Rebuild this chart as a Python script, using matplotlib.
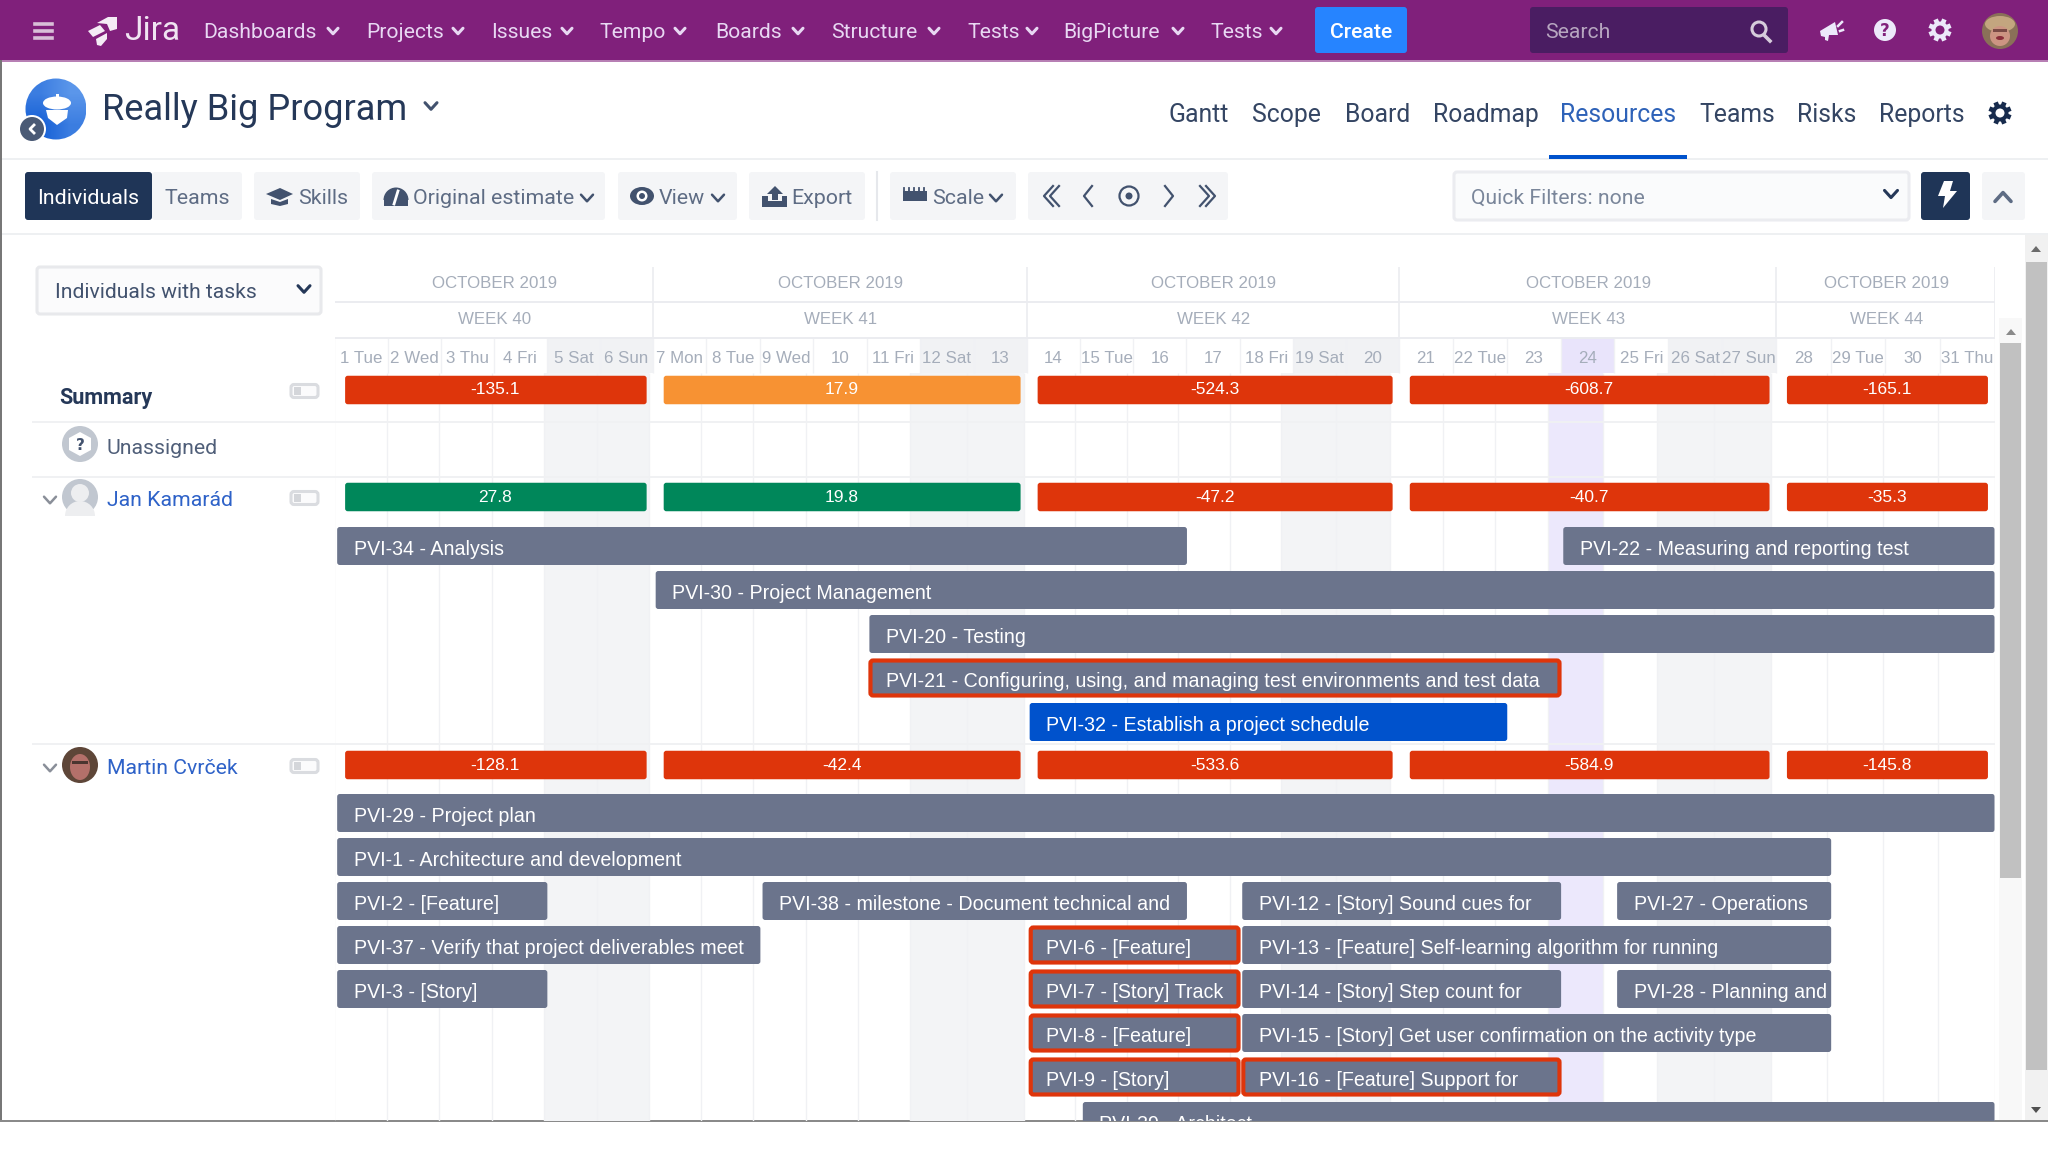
import matplotlib
matplotlib.use("Agg")
import numpy as np
import matplotlib.pyplot as plt
from matplotlib.colors import LinearSegmentedColormap
from matplotlib.patches import FancyBboxPatch, Circle, Polygon, Rectangle, Ellipse, Wedge

# calendar
day_labels = ['1 Tue', '2 Wed', '3 Thu', '4 Fri', '5 Sat', '6 Sun', '7 Mon', '8 Tue', '9 Wed', '10', '11 Fri',
              '12 Sat', '13', '14', '15 Tue', '16', '17', '18 Fri', '19 Sat', '20', '21', '22 Tue', '23', '24',
              '25 Fri', '26 Sat', '27 Sun', '28', '29 Tue', '30', '31 Thu']
weekend_days = [5, 6, 12, 13, 19, 20, 26, 27]
today = 24
week_labels = ['WEEK 40', 'WEEK 41', 'WEEK 42', 'WEEK 43', 'WEEK 44']
week_first_day = [1, 7, 14, 21, 28]
week_last_day = [6, 13, 20, 27, 31]

# weekly capacity figures
summary_values = [-135.1, 17.9, -524.3, -608.7, -165.1]
jan_values = [27.8, 19.8, -47.2, -40.7, -35.3]
martin_values = [-128.1, -42.4, -533.6, -584.9, -145.8]

# tasks of Jan: name, first day, last day, lane
jan_tasks = ['PVI-34 - Analysis', 'PVI-22 - Measuring and reporting test', 'PVI-30 - Project Management',
             'PVI-20 - Testing', 'PVI-21 - Configuring, using, and managing test environments and test data',
             'PVI-32 - Establish a project schedule']
jan_first = [1, 24, 7, 11, 11, 14]
jan_last = [16, 31, 31, 31, 23, 22]
jan_lanes = [0, 0, 1, 2, 3, 4]
jan_late = [False, False, False, False, True, False]
jan_done = [False, False, False, False, False, True]

# tasks of Martin
martin_tasks = ['PVI-29 - Project plan', 'PVI-1 - Architecture and development', 'PVI-2 - [Feature]',
                'PVI-38 - milestone - Document technical and', 'PVI-12 - [Story] Sound cues for', 'PVI-27 - Operations',
                'PVI-37 - Verify that project deliverables meet', 'PVI-6 - [Feature]',
                'PVI-13 - [Feature] Self-learning algorithm for running', 'PVI-3 - [Story]', 'PVI-7 - [Story] Track',
                'PVI-14 - [Story] Step count for', 'PVI-28 - Planning and', 'PVI-8 - [Feature]',
                'PVI-15 - [Story] Get user confirmation on the activity type', 'PVI-9 - [Story]',
                'PVI-16 - [Feature] Support for', 'PVI-39 - Architect']
martin_first = [1, 1, 1, 9, 18, 25, 1, 14, 18, 1, 14, 18, 25, 14, 18, 14, 18, 15]
martin_last = [31, 28, 4, 16, 23, 28, 8, 17, 28, 4, 17, 23, 28, 17, 28, 17, 23, 31]
martin_lanes = [0, 1, 2, 2, 2, 2, 3, 3, 3, 4, 4, 4, 4, 5, 5, 6, 6, 7]
martin_late = [False, False, False, False, False, False, False, True, False, False, True, False, False, True, False,
               True, True, False]

nav_labels = ['Dashboards', 'Projects', 'Issues', 'Tempo', 'Boards', 'Structure', 'Tests', 'BigPicture', 'Tests']
nav_x = [203, 366, 491, 599, 715, 831, 967, 1063, 1210]
nav_chevron_x = [333, 458, 567, 680, 798, 934, 1032, 1178, 1276]
tab_labels = ['Gantt', 'Scope', 'Board', 'Roadmap', 'Resources', 'Teams', 'Risks', 'Reports']
tab_x = [1169, 1252, 1345, 1433, 1560, 1699, 1797, 1879]

PURPLE = '#80207B'
LAVENDER = '#E8D8F3'
RED = '#DE350B'
ORANGE = '#F79233'
GREEN = '#00875A'
SLATE = '#6B748C'
BLUE = '#0052CC'
DARK = '#1F3557'
BTN = '#F4F5F7'
MUTED = '#42526E'
UI_FONT = 'Roboto'
GRID_FONT = 'Liberation Sans'

fig = plt.figure(figsize=(20.48, 11.52), dpi=100, facecolor='white')

# page furniture is drawn in screen pixels
ui = fig.add_axes([0, 0, 1, 1], zorder=0)
ui.set_xlim(0, 2048)
ui.set_ylim(1152, 0)
ui.axis('off')


def box(x0, y0, x1, y1, color, edge='none', lw=0, r=3, z=2):
    ui.add_patch(FancyBboxPatch((x0, y0), x1 - x0, y1 - y0, boxstyle=f'round,pad=0,rounding_size={r}',
                                fc=color, ec=edge, lw=lw, zorder=z))


def chevron(x, y, size=5, color=MUTED, lw=1.8, up=False):
    d = -1 if up else 1
    ui.plot([x - size, x, x + size], [y - d * size * 0.55, y + d * size * 0.55, y - d * size * 0.55], color=color,
            lw=lw, solid_capstyle='round', zorder=5)


def label(x, y, s, size=15.4, color=MUTED, ha='left', family=UI_FONT, weight='normal'):
    ui.text(x, y, s, fontsize=size, color=color, ha=ha, va='center', family=family, weight=weight, zorder=6)


def gear(x, y, color, hole):
    ui.add_patch(Circle((x, y), 8.5, fc=color, ec='none', zorder=5))
    for a in np.arange(0, 360, 45) + 22.5:
        t = np.radians(a)
        ui.plot([x + 7 * np.cos(t), x + 11.5 * np.cos(t)], [y + 7 * np.sin(t), y + 11.5 * np.sin(t)],
                color=color, lw=3.4, solid_capstyle='butt', zorder=5)
    ui.add_patch(Circle((x, y), 4.5, fc=hole, ec='none', zorder=6))


# top bar
ui.add_patch(Rectangle((0, 0), 2048, 60.5, fc=PURPLE, ec='none', zorder=1))
ui.add_patch(Rectangle((0, 60), 2048, 1.5, fc='#B77FB4', ec='none', zorder=1))
ui.add_patch(Rectangle((0, 60), 2, 1061, fc='#777777', ec='none', zorder=8))
ui.add_patch(Rectangle((0, 1120), 2048, 2, fc='#8A8A8A', ec='none', zorder=8))
for y in [24, 31, 38]:
    ui.plot([35, 52], [y, y], color='#D9BFD8', lw=2.6, zorder=5)
ui.add_patch(Polygon([[88, 31], [100, 25], [105, 31], [93, 37]], fc='#F4ECF5', zorder=5))
ui.add_patch(Polygon([[97, 23], [108, 17], [117, 17], [117, 29], [110, 31], [107, 24]], fc='#F4ECF5', zorder=5))
ui.add_patch(Polygon([[96, 39], [107, 33], [107, 39], [101, 46], [97, 45]], fc='#F4ECF5', zorder=5))
label(124, 31, 'Jira', size=24, color='#F0E4F2')
for s, x, cx in zip(nav_labels, nav_x, nav_chevron_x):
    label(x, 32.5, s, size=15.2, color=LAVENDER)
    chevron(cx, 31, size=5, color=LAVENDER, lw=2.2)
box(1315, 7, 1407, 53, '#2684FF')
label(1361, 32.5, 'Create', size=15.2, color='white', ha='center', weight='medium')
box(1530, 7, 1788, 53, '#4A1D62')
label(1545, 32.5, 'Search', size=15.2, color='#B7A6C0')
ui.add_patch(Circle((1759, 29), 7, fc='none', ec='#D6CCDB', lw=2.2, zorder=5))
ui.plot([1764, 1770], [35, 41], color='#D6CCDB', lw=2.6, zorder=5)
ui.add_patch(Polygon([[1820, 31], [1835, 22], [1838, 35], [1829, 35], [1828, 41], [1825, 40], [1825, 37], [1821, 36]],
                     fc='#ECE9FA', zorder=5))
ui.plot([1838, 1842], [26, 22], color='#ECE9FA', lw=1.8, zorder=5)
ui.plot([1840, 1843], [31, 30], color='#ECE9FA', lw=1.8, zorder=5)
ui.add_patch(Circle((1885, 30), 11, fc='#ECE9FA', ec='none', zorder=5))
ui.text(1885, 31, '?', fontsize=12, color=PURPLE, ha='center', va='center', weight='bold', zorder=6)
gear(1940, 30, '#ECE9FA', PURPLE)
ui.add_patch(Circle((2000, 31), 18, fc='#8A7058', ec='none', zorder=5))
ui.add_patch(Ellipse((2000, 24), 30, 16, fc='#C3A57F', ec='none', zorder=6))
ui.add_patch(Ellipse((2000, 36), 20, 20, fc='#CC9482', ec='none', zorder=7))
ui.add_patch(Rectangle((1993, 29), 14, 2.5, fc='#7A4A45', ec='none', zorder=8))
ui.add_patch(Ellipse((2000, 38), 8, 4, fc='#8A2E3A', ec='none', zorder=8))

# project title, logo with a soft gradient
logo_cmap = LinearSegmentedColormap.from_list('logo', ['#1660D6', '#5B96EA'])
logo = ui.imshow([[0.55, 1.0], [0.0, 0.55]], cmap=logo_cmap, extent=(25, 86, 140, 78), aspect='auto', zorder=3,
                 interpolation='bilinear')
logo.set_clip_path(Circle((56, 109), 30.5, transform=ui.transData))
ui.set_xlim(0, 2048)
ui.set_ylim(1152, 0)
ui.add_patch(Ellipse((57, 103), 28, 13, fc='white', ec='none', zorder=4))
ui.add_patch(Rectangle((56, 94), 2.5, 5, fc='white', ec='none', zorder=4))
ui.add_patch(Polygon([[46, 110], [68, 110], [67, 118], [57, 125], [48, 118]], fc='white', zorder=4))
ui.add_patch(Circle((32, 129), 14, fc='white', ec='none', zorder=5))
ui.add_patch(Circle((32, 129), 12, fc='#4A5A75', ec='none', zorder=6))
ui.plot([34, 30, 34], [125, 129, 133], color='white', lw=2, zorder=7)
label(102, 110.5, 'Really Big Program', size=26.1, color='#253858')
chevron(431, 106, size=6, color=MUTED, lw=2.2)
for s, x in zip(tab_labels, tab_x):
    label(x, 115, s, size=17.8, color='#2E62B8' if s == 'Resources' else '#344563')
ui.add_patch(Rectangle((1549, 155), 138, 3.5, fc=BLUE, ec='none', zorder=4))
gear(2000, 113, '#172B4D', 'white')
ui.add_patch(Rectangle((0, 158), 2048, 2, fc='#EEF0F2', ec='none', zorder=1))
ui.add_patch(Rectangle((0, 233), 2048, 2, fc='#EEF0F2', ec='none', zorder=1))

# toolbar
box(152, 172, 242, 220, BTN)
box(25, 172, 152, 220, DARK)
label(88, 198.5, 'Individuals', color='white', ha='center')
label(197, 198.5, 'Teams', color='#5E6C84', ha='center')
box(254, 172, 360, 220, BTN)
ui.add_patch(Polygon([[266, 194], [280, 188], [293, 194], [280, 200]], fc=MUTED, zorder=5))
ui.add_patch(Polygon([[271, 199], [280, 202], [288, 199], [288, 204], [280, 206], [271, 204]], fc=MUTED, zorder=5))
label(298, 198.5, 'Skills', color='#5E6C84')
box(372, 172, 605, 220, BTN)
ui.add_patch(Wedge((396, 200), 12.5, 180, 360, fc=MUTED, ec='none', zorder=5))
ui.add_patch(Rectangle((384, 200), 24, 6, fc=MUTED, ec='none', zorder=5))
ui.plot([394, 398], [204, 191], color='white', lw=2, zorder=6)
label(413, 198.5, 'Original estimate', color='#5E6C84')
chevron(587, 198, size=6)
box(618, 172, 737, 220, BTN)
ui.add_patch(Ellipse((642, 196), 24, 18, fc=MUTED, ec='none', zorder=5))
ui.add_patch(Circle((642, 196), 5.5, fc='white', ec='none', zorder=6))
ui.add_patch(Circle((642, 196), 3, fc=MUTED, ec='none', zorder=7))
label(659, 198.5, 'View', color='#5E6C84')
chevron(718, 198, size=6)
box(749, 172, 865, 220, BTN)
ui.add_patch(Polygon([[762, 196], [768, 196], [768, 201], [782, 201], [782, 196], [787, 196], [787, 207], [762, 207]],
                     fc=MUTED, zorder=5))
ui.add_patch(Polygon([[775, 186], [783, 194], [778, 194], [778, 200], [772, 200], [772, 194], [767, 194]], fc=MUTED,
                     zorder=5))
label(791, 198.5, 'Export', color='#5E6C84')
ui.plot([877, 877], [172, 220], color='#E6E8EC', lw=1.5, zorder=3)
box(890, 172, 1016, 220, BTN)
ui.add_patch(Rectangle((903, 191), 24, 10, fc=MUTED, ec='none', zorder=5))
for tx in [904, 909, 914, 919, 924]:
    ui.plot([tx, tx], [188, 192], color=MUTED, lw=1.3, zorder=5)
label(932, 198.5, 'Scale', color='#5E6C84')
chevron(996, 198, size=6)
box(1028, 172, 1228, 220, BTN)
ui.plot([1053, 1044, 1053], [186, 196, 206], color=MUTED, lw=1.6, zorder=5)
ui.plot([1059, 1050, 1059], [186, 196, 206], color=MUTED, lw=1.6, zorder=5)
ui.plot([1092, 1084, 1092], [186, 196, 206], color=MUTED, lw=1.6, zorder=5)
ui.add_patch(Circle((1129, 196), 9.5, fc='none', ec=MUTED, lw=1.6, zorder=5))
ui.add_patch(Circle((1129, 196), 3.5, fc=MUTED, ec='none', zorder=5))
ui.plot([1165, 1173, 1165], [186, 196, 206], color=MUTED, lw=1.6, zorder=5)
ui.plot([1200, 1209, 1200], [186, 196, 206], color=MUTED, lw=1.6, zorder=5)
ui.plot([1206, 1215, 1206], [186, 196, 206], color=MUTED, lw=1.6, zorder=5)
box(1454, 172, 1909, 220, '#FAFBFC', edge='#EBECF0', lw=2.2)
label(1471, 198.5, 'Quick Filters: none', size=15.2, color='#7A869A')
chevron(1891, 194, size=6.5, color='#253858', lw=2.2)
box(1921, 172, 1970, 220, DARK)
ui.add_patch(Polygon([[1944, 181], [1953, 181], [1950, 191], [1957, 191], [1943, 208], [1945, 196], [1938, 196]],
                     fc='white', zorder=5))
box(1982, 172, 2025, 220, BTN)
chevron(2003, 197, size=8, color='#5E6C84', lw=2.6, up=True)

# left column
box(37, 267, 321, 314, '#FBFBFC', edge='#E8E9EC', lw=2.2)
label(55, 292.5, 'Individuals with tasks', size=15.2, color='#42526E')
chevron(304, 289, size=6, color='#253858', lw=2.2)
label(59, 398, 'Summary', size=15.6, color='#253858', weight='bold')
for ty in [391, 498, 766]:
    box(291, ty - 6.5, 318, ty + 6.5, '#FBFBFC', edge='#DADCE0', lw=2.2, r=3)
    ui.add_patch(Rectangle((294, ty - 4), 7, 8, fc='#D4D6DA', ec='none', zorder=3))
ui.add_patch(Circle((80, 444), 18, fc='#C1C7D0', ec='none', zorder=3))
ui.add_patch(Polygon([[80, 432], [91, 438], [91, 450], [80, 456], [69, 450], [69, 438]], fc='white', zorder=4))
ui.text(80, 445, '?', fontsize=11, color='#42526E', ha='center', va='center', weight='bold', zorder=5)
label(107, 448.5, 'Unassigned', size=15.3, color='#505F79')
chevron(50, 500, size=6, color='#8A8F99', lw=1.8)
ui.add_patch(Circle((80, 497), 18, fc='#C1C7D0', ec='none', zorder=3))
ui.add_patch(Circle((80, 493), 9, fc='#EDEEF0', ec='none', zorder=4))
ui.add_patch(Wedge((80, 516), 15, 180, 360, fc='#EDEEF0', ec='none', zorder=4))
label(107, 501, 'Jan Kamarád', size=15.3, color='#2E62C8')
chevron(50, 768, size=6, color='#8A8F99', lw=1.8)
ui.add_patch(Circle((80, 765), 18, fc='#5E4638', ec='none', zorder=3))
ui.add_patch(Ellipse((80, 767), 20, 26, fc='#B4706A', ec='none', zorder=4))
ui.add_patch(Rectangle((72, 761), 16, 3, fc='#4A3530', ec='none', zorder=5))
label(107, 768, 'Martin Cvrček', size=15.3, color='#2E62C8')

# scrollbars
ui.add_patch(Rectangle((2025, 235), 23, 885, fc='#F1F1F1', ec='none', zorder=1))
ui.add_patch(Rectangle((2026, 262), 21, 808, fc='#C1C1C1', ec='none', zorder=2))
ui.add_patch(Polygon([[2031, 252], [2036, 246], [2041, 252]], fc='#6B6B6B', zorder=3))
ui.add_patch(Polygon([[2031, 1107], [2036, 1113], [2041, 1107]], fc='#505050', zorder=3))
ui.add_patch(Rectangle((1999, 318), 23, 802, fc='#F8F8F8', ec='none', zorder=1))
ui.add_patch(Rectangle((2000, 343), 21, 535, fc='#C1C1C1', ec='none', zorder=2))
ui.add_patch(Polygon([[2006, 335], [2011, 329], [2016, 335]], fc='#8A8A8A', zorder=3))
for y in [422, 477, 744]:
    ui.plot([33, 334], [y, y], color='#F0F1F3', lw=1.4, zorder=1)

# gantt: x is days since the 1st on a slightly uneven column scale, y is screen pixels
left, right, top, bottom = 334.5, 1994.5, 267, 1121
HEAD_TOP, MONTH_LINE, WEEK_LINE, DAY_LINE = 267, 302, 338, 373
n_days = len(day_labels)
px_per_day = (right - left) / n_days
head_days = [0, 6, 13, 20, 27, 31]
head_px = [334.5, 653, 1027, 1399, 1776, 1994.5]
body_days = [0, 4, 6, 11, 13, 18, 20, 23, 24, 25, 27, 28, 30, 31]
body_px = [334.5, 544, 649, 910, 1024, 1281, 1390, 1548, 1603, 1657, 1771, 1827, 1938, 1994.5]


def day_axes(days, px, z):
    a = fig.add_axes([left / 2048, 1 - bottom / 1152, (right - left) / 2048, (bottom - top) / 1152], zorder=z)
    a.set_xscale('function', functions=(lambda d: np.interp(d, days, px), lambda p: np.interp(p, px, days)))
    a.set_xlim(0, n_days)
    a.set_ylim(bottom, top)
    a.axis('off')
    a.patch.set_alpha(0)
    return a


grid_ax = day_axes(body_days, body_px, 1)
ax = day_axes(head_days, head_px, 2)

for d in weekend_days:
    grid_ax.fill_between([d - 1, d], DAY_LINE, bottom, color='#F3F4F6', lw=0, zorder=0)
    ax.fill_between([d - 1, d], WEEK_LINE, DAY_LINE, color='#F1F2F4', lw=0, zorder=0)
grid_ax.fill_between([today - 1, today], DAY_LINE, bottom, color='#ECE8FC', lw=0, zorder=0)
ax.fill_between([today - 1, today], WEEK_LINE, DAY_LINE, color='#E9E4FB', lw=0, zorder=0)
grid_ax.vlines(range(n_days + 1), DAY_LINE, bottom, color='#F0F1F4', lw=1, zorder=1)
ax.vlines(range(n_days + 1), WEEK_LINE, DAY_LINE, color='#F0F1F4', lw=1, zorder=1)
ax.hlines([MONTH_LINE, WEEK_LINE], 0, n_days, color='#EBECF0', lw=1.4, zorder=1)
ax.vlines([f - 1 for f in week_first_day] + [n_days], HEAD_TOP, WEEK_LINE, color='#EBECF0', lw=1.2, zorder=1)
ax.hlines([422, 477, 744], 0, n_days, color='#F0F1F3', lw=1.4, zorder=1)

for i, s in enumerate(day_labels):
    ax.text(i + 0.5, 358.5, s, fontsize=12.2, color='#A5ADBA', ha='center', va='center', family=GRID_FONT, zorder=3)
for s, first, last in zip(week_labels, week_first_day, week_last_day):
    mid = (first - 1 + last) / 2 + 0.015
    ax.text(mid, 319, s, fontsize=12.2, color='#A5ADBA', ha='center', va='center', family=GRID_FONT, zorder=3)
    ax.text(mid, 283, 'OCTOBER 2019', fontsize=12.2, color='#A5ADBA', ha='center', va='center', family=GRID_FONT,
            zorder=3)


def gantt_box(x0, x1, yc, height, color, edge='none', lw=0):
    ax.add_patch(FancyBboxPatch((x0, yc - height / 2), x1 - x0, height, boxstyle='round,pad=0,rounding_size=0.05',
                                mutation_aspect=px_per_day, fc=color, ec=edge, lw=lw, zorder=4))


def capacity_row(values, yc):
    for value, first, last in zip(values, week_first_day, week_last_day):
        if value < 0:
            color = RED
        elif value < 18:
            color = ORANGE
        else:
            color = GREEN
        gantt_box(first - 1 + 0.2, last - 0.12, yc, 28.5, color)
        ax.text((first - 1 + last) / 2 + 0.03, yc, f'{value:.1f}', fontsize=12.5, color='white', ha='center',
                va='center', family=GRID_FONT, zorder=5)


def task_rows(names, firsts, lasts, lanes, late, first_row, done=None):
    for i, name in enumerate(names):
        yc = first_row + lanes[i] * 44
        color = BLUE if done is not None and done[i] else SLATE
        if late[i]:
            gantt_box(firsts[i] - 1 + 0.07, lasts[i] - 0.02, yc, 35, color, edge=RED, lw=3)
        else:
            gantt_box(firsts[i] - 1 + 0.05, lasts[i] + 0.01, yc, 38, color)
        ax.text(firsts[i] - 1 + 0.36, yc + 3.5, name, fontsize=14.15, color='white', ha='left', va='center',
                family=GRID_FONT, zorder=5, clip_on=True)


capacity_row(summary_values, 390)
capacity_row(jan_values, 497)
capacity_row(martin_values, 765)
task_rows(jan_tasks, jan_first, jan_last, jan_lanes, jan_late, 546, done=jan_done)
task_rows(martin_tasks, martin_first, martin_last, martin_lanes, martin_late, 813)

fig.savefig('out.png', dpi=100)
